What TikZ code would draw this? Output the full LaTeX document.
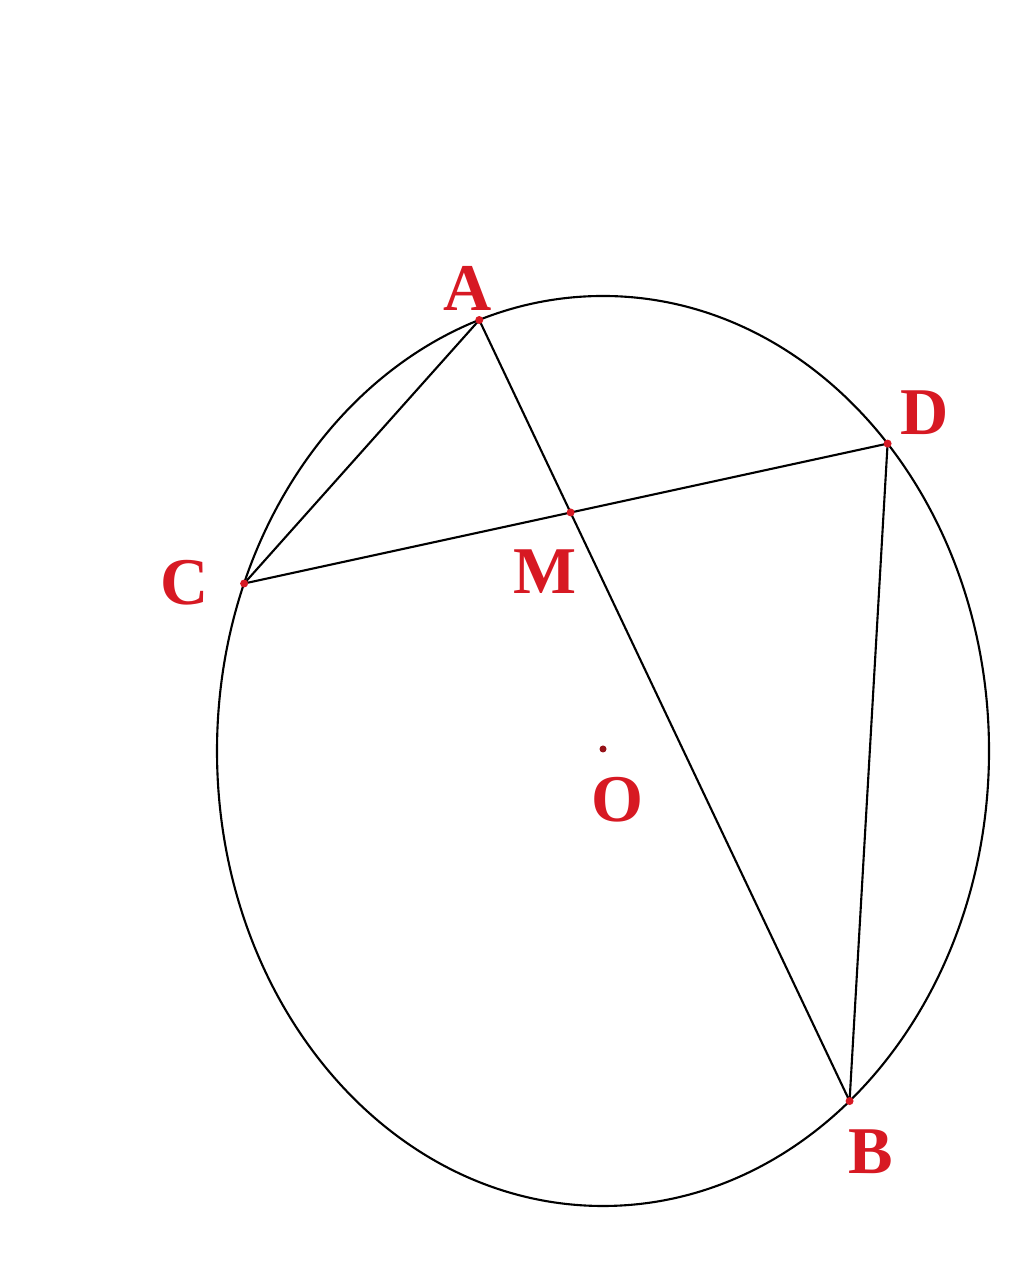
\documentclass[tikz,border=0pt]{standalone}
\usepackage{fontspec}
\setmainfont{Liberation Serif}
\usetikzlibrary{calc}
\definecolor{ptred}{RGB}{215,25,35}
\begin{document}
\begin{tikzpicture}[line join=round, line cap=round,
	lbl/.style={text=ptred, font=\fontsize{19}{23}\selectfont\bfseries, inner sep=0pt},
	pt/.style={fill=ptred, draw=none}]
			\useasboundingbox (0,0) rectangle (10.24,12.8);
			\coordinate (O) at (6.03,5.29);
			\draw[line width=0.6pt] (O) ellipse (3.86 and 4.55);
			\coordinate (A) at ([shift={(O)}]108.7:3.86 and 4.55);
			\coordinate (D) at ([shift={(O)}]42.5:3.86 and 4.55);
			\coordinate (C) at ([shift={(O)}]158.4:3.86 and 4.55);
			\coordinate (B) at ([shift={(O)}]-50.3:3.86 and 4.55);
			\coordinate (M) at (intersection of A--B and C--D);
			\draw[line width=0.6pt] (C)--(A)--(B)--(D)--(C);
			\foreach \p in {A,B,C,D,M}
			\fill[pt] (\p) circle (0.04);
			\fill[ptred!70!black] (O) ++(0,0.02) circle (0.035);
			\node[lbl] (lA) at (4.68,9.92) {A};
			\node[lbl] (lD) at (9.25,8.67) {D};
			\node[lbl] (lC) at (1.85,6.97) {C};
			\node[lbl] (lM) at (5.45,7.08) {M};
			\node[lbl] (lO) at (6.17,4.80) {O};
			\node[lbl] (lB) at (8.71,1.28) {B};
		\end{tikzpicture}
\end{document}
